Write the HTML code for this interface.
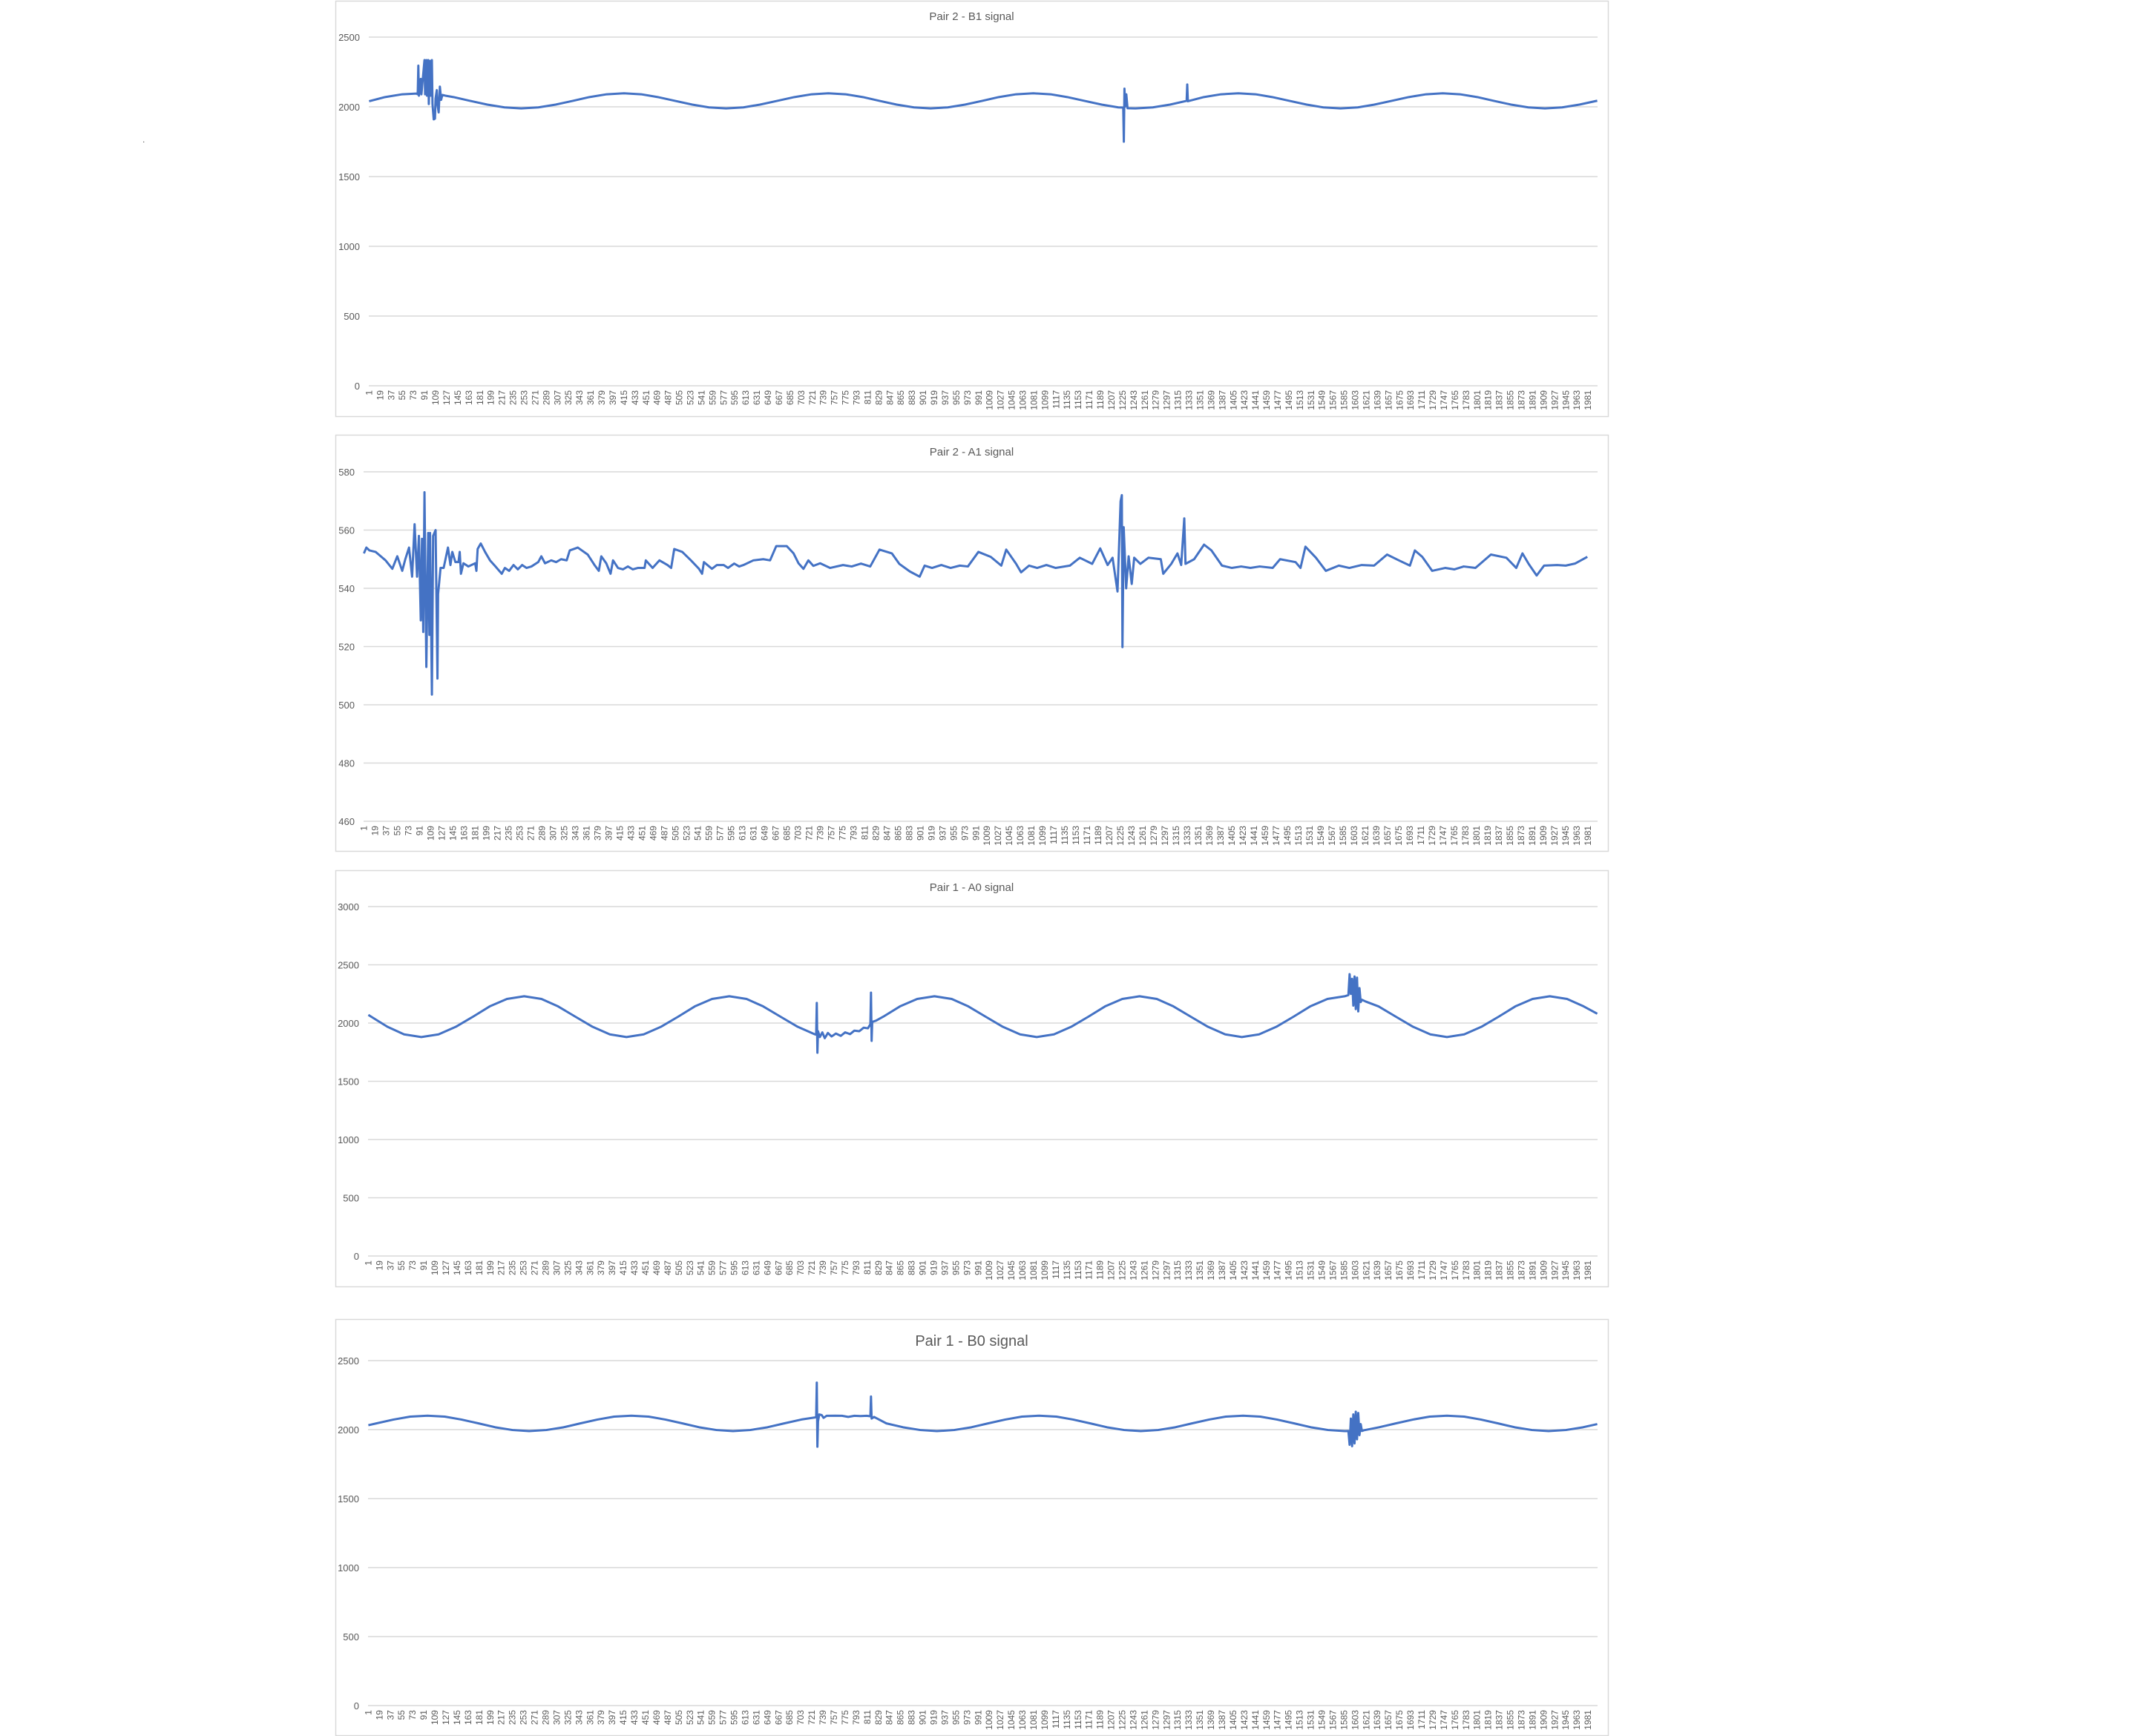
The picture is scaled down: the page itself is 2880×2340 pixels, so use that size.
<!DOCTYPE html>
<html><head><meta charset="utf-8"><style>
html,body{margin:0;padding:0;background:#fff;}
svg{display:block;font-family:"Liberation Sans",sans-serif;}
</style></head><body>
<svg id="root" width="2880" height="2340" viewBox="0 0 2880 2340" xmlns="http://www.w3.org/2000/svg">
<text x="192" y="192" font-size="12" fill="#595959">.</text>
</svg>
<script>
// ---- data (category index, value) ----
const N_POINTS = 1996;
const b1Idx = [1,27,55,78,80,81,82,85,86,91,92,94,95,97,98,100,101,103,104,106,108,109,111,112,114,116,118,120,125,138,165,193,221,248,276,304,332,359,387,415,443,470,498,526,553,581,609,636,664,692,720,747,775,803,830,858,886,913,941,969,997,1024,1052,1080,1108,1135,1163,1191,1218,1226,1227,1228,1229,1231,1233,1246,1274,1302,1329,1330,1331,1357,1385,1413,1441,1468,1496,1524,1551,1579,1607,1634,1662,1690,1718,1745,1773,1801,1828,1856,1884,1911,1939,1967,1996];
const b1Val = [2040,2070,2090,2095,2090,2295,2080,2200,2090,2335,2090,2335,2080,2335,2020,2330,2080,2335,2020,1910,1915,2060,2120,2020,1960,2145,2050,2085,2080,2070,2043,2016,1996,1989,1996,2016,2043,2070,2090,2097,2090,2070,2043,2016,1996,1989,1996,2016,2043,2070,2090,2097,2090,2070,2043,2016,1996,1989,1996,2016,2043,2070,2090,2097,2090,2070,2043,2016,1996,1995,1750,2130,2000,2090,1990,1989,1996,2016,2043,2160,2040,2070,2090,2097,2090,2070,2043,2016,1996,1989,1996,2016,2043,2070,2090,2097,2090,2070,2043,2016,1996,1989,1996,2016,2044];

const a1Idx = [1,5,10,20,36,47,55,63,68,74,79,83,87,90,93,95,97,99,102,105,107,108,111,113,117,120,121,125,130,137,141,144,149,154,156,158,162,170,181,183,185,190,197,205,213,224,229,236,243,250,257,264,272,283,288,294,304,312,320,329,334,347,363,374,381,385,393,400,404,412,420,428,436,444,455,457,468,479,492,498,503,516,530,543,548,551,564,572,583,590,600,608,615,631,647,658,668,685,696,704,712,720,728,739,755,776,790,805,820,835,855,867,884,900,908,920,935,950,965,978,995,1015,1032,1040,1056,1064,1077,1090,1105,1120,1143,1159,1179,1192,1204,1212,1220,1225,1227,1228,1230,1234,1238,1243,1247,1257,1270,1290,1294,1307,1317,1323,1328,1330,1344,1360,1372,1389,1405,1420,1435,1450,1471,1483,1508,1516,1524,1541,1557,1578,1595,1615,1635,1656,1676,1693,1701,1713,1729,1750,1765,1780,1799,1824,1849,1865,1875,1885,1898,1910,1931,1945,1960,1980,1996];
const a1Val = [552,554,553,552.5,549.6,546.7,551,546,550,554,544,562,544,558,529,557,525,573,513,559,524,559,503.5,558,560,509,538,547,547,554,548,552.5,549,549,552.5,545,548.6,547.5,548.6,546,553.5,555.4,552.5,549.6,547.7,545,547,546,548,546.5,548,547,547.5,549,551,548.6,549.6,549,550,549.6,553,554,551.6,548,546,551,548.6,545,549.6,547,546.5,547.5,546.5,547,547,549.6,547,549.6,548,547,553.5,552.5,549.6,546.7,545,549,546.7,548,548,547,548.5,547.5,548,549.6,550,549.6,554.5,554.5,552,548.6,546.7,549.6,547.7,548.6,547,548,547.5,548.5,547.5,553.3,552,548.4,545.8,544,547.8,547,548,547,547.8,547.5,552.5,550.8,547.8,553.3,548.4,545.5,547.8,547,548,547,547.8,550.5,548.4,553.7,548,550.5,538.9,569.9,572,519.8,561,540,551,541.5,550.5,548.4,550.5,550,545,548.4,552,548,564,548.4,550,555,553,547.8,547,547.5,547,547.5,547,550,549,547,554.3,550.5,546,547.8,547,548,547.8,551.6,549.5,547.8,553,550.8,546,547,546.5,547.5,547,551.6,550.5,547,552,548.4,544.4,547.8,548,547.8,548.5,550.8];

const a0Idx = [1,32,59,87,115,143,171,198,226,254,282,309,337,365,393,420,448,476,504,531,559,587,615,642,670,698,726,728,729,730,731,734,738,742,747,753,760,768,775,783,790,798,805,812,816,817,818,819,825,837,864,892,920,948,975,1003,1031,1059,1086,1114,1142,1170,1197,1225,1253,1281,1308,1336,1364,1392,1419,1447,1475,1503,1530,1558,1586,1592,1594,1596,1598,1600,1602,1604,1606,1608,1610,1612,1614,1620,1641,1669,1697,1725,1752,1780,1808,1836,1863,1891,1919,1947,1974,1996];
const a0Val = [2070,1968,1903,1880,1903,1968,2055,2143,2207,2230,2207,2143,2055,1968,1903,1880,1903,1968,2055,2143,2207,2230,2207,2143,2055,1968,1903,1900,2173,1745,1930,1880,1920,1870,1915,1885,1910,1890,1920,1905,1935,1930,1960,1955,1990,2261,1847,2010,2020,2055,2143,2207,2230,2207,2143,2055,1968,1903,1880,1903,1968,2055,2143,2207,2230,2207,2143,2055,1968,1903,1880,1903,1968,2055,2143,2207,2230,2240,2420,2250,2380,2150,2400,2120,2390,2100,2300,2180,2200,2185,2143,2055,1968,1903,1880,1903,1968,2055,2143,2207,2230,2207,2143,2080];

const b0Idx = [1,14,42,69,97,125,152,180,207,235,262,290,318,345,373,400,428,456,483,511,538,566,593,621,649,676,704,726,728,729,730,731,733,737,740,745,759,770,780,790,800,810,816,817,818,822,842,869,897,924,952,980,1007,1035,1062,1090,1118,1145,1173,1200,1228,1255,1283,1311,1338,1366,1393,1421,1449,1476,1504,1531,1559,1586,1592,1594,1596,1598,1600,1602,1604,1606,1608,1610,1612,1614,1617,1642,1669,1697,1724,1752,1780,1807,1835,1862,1890,1917,1945,1973,1996];
const b0Val = [2032,2045,2073,2094,2101,2094,2073,2045,2017,1997,1989,1997,2017,2045,2073,2094,2101,2094,2073,2045,2017,1997,1989,1997,2017,2045,2073,2088,2090,2341,1876,2060,2110,2105,2085,2100,2101,2100,2092,2100,2098,2100,2097,2240,2080,2092,2045,2017,1997,1989,1997,2017,2045,2073,2094,2101,2094,2073,2045,2017,1997,1989,1997,2017,2045,2073,2094,2101,2094,2073,2045,2017,1997,1989,1990,1890,2080,1880,2110,1900,2130,1930,2120,1960,2040,1990,1995,2017,2045,2073,2094,2101,2094,2073,2045,2017,1997,1989,1997,2017,2040];

const b1Ticks = [0,500,1000,1500,2000,2500];
const a1Ticks = [460,480,500,520,540,560,580];
const a0Ticks = [0,500,1000,1500,2000,2500,3000];
const b0Ticks = [0,500,1000,1500,2000,2500];
const xTickLabels = [];
for (let c = 1; c <= N_POINTS; c += 18) xTickLabels.push(c);

// ---- layout ----
const NS = 'http://www.w3.org/2000/svg';
const root = document.getElementById('root');
function mk(tag, attrs, parent) {
  const e = document.createElementNS(NS, tag);
  for (const k in attrs) e.setAttribute(k, attrs[k]);
  (parent || root).appendChild(e);
  return e;
}

const charts = [
  {key:'b1', title:'Pair 2 - B1 signal', idx:b1Idx, val:b1Val, ticks:b1Ticks, box:[452,1,2167,561], x0:497, x1:2153, yTop:50, yBot:520, titleY:27, titleSize:15},
  {key:'a1', title:'Pair 2 - A1 signal', idx:a1Idx, val:a1Val, ticks:a1Ticks, box:[452,586,2167,1147], x0:490, x1:2153, yTop:636, yBot:1107, titleY:614, titleSize:15},
  {key:'a0', title:'Pair 1 - A0 signal', idx:a0Idx, val:a0Val, ticks:a0Ticks, box:[452,1173,2167,1734], x0:496, x1:2153, yTop:1222, yBot:1693, titleY:1201, titleSize:15},
  {key:'b0', title:'Pair 1 - B0 signal', idx:b0Idx, val:b0Val, ticks:b0Ticks, box:[452,1778,2167,2339], x0:496, x1:2153, yTop:1834, yBot:2299, titleY:1814, titleSize:20}
];

charts.forEach(function(c) {
  const g = mk('g', {});
  
  
  const frame = mk('rect', {x:c.box[0]+0.5, y:c.box[1]+0.5, width:c.box[2]-c.box[0], height:c.box[3]-c.box[1], fill:'#fff', stroke:'#d9d9d9', 'stroke-width':1.5}, g);
  
  

  const yMin = c.ticks[0], yMax = c.ticks[c.ticks.length-1];
  const yScale = v => c.yBot - (v - yMin) / (yMax - yMin) * (c.yBot - c.yTop);
  const w = (c.x1 - c.x0) / N_POINTS;
  const xScale = i => c.x0 + (i - 0.5) * w;

  const t = mk('text', {x:(c.box[0]+c.box[2])/2, y:c.titleY, 'text-anchor':'middle', 'font-size':c.titleSize, fill:'#595959'}, g);
  t.textContent = c.title;
  
  

  c.ticks.forEach(function(v) {
    const y = yScale(v);
    const gl = mk('line', {x1:c.x0, x2:c.x1, y1:y, y2:y, stroke:'#d9d9d9', 'stroke-width':1.5}, g);
    
    
    const lb = mk('text', {x:c.x0-12, y:y+5, 'text-anchor':'end', 'font-size':13, fill:'#595959'}, g);
    lb.textContent = v;
    
    
  });

  xTickLabels.forEach(function(cat) {
    const x = xScale(cat) + 4, y = c.yBot + 6;
    const lb = mk('text', {x:x, y:y, 'text-anchor':'end', 'font-size':12, fill:'#595959', transform:'rotate(-90 ' + x + ' ' + y + ')'}, g);
    lb.textContent = cat;
    
    
  });

  const pts = c.idx.map((i, k) => xScale(i).toFixed(2) + ',' + yScale(c.val[k]).toFixed(2)).join(' ');
  const line = mk('polyline', {points:pts, fill:'none', stroke:'#4472c4', 'stroke-width':3, 'stroke-linejoin':'round'}, g);
  
  
});
</script>
</body></html>
